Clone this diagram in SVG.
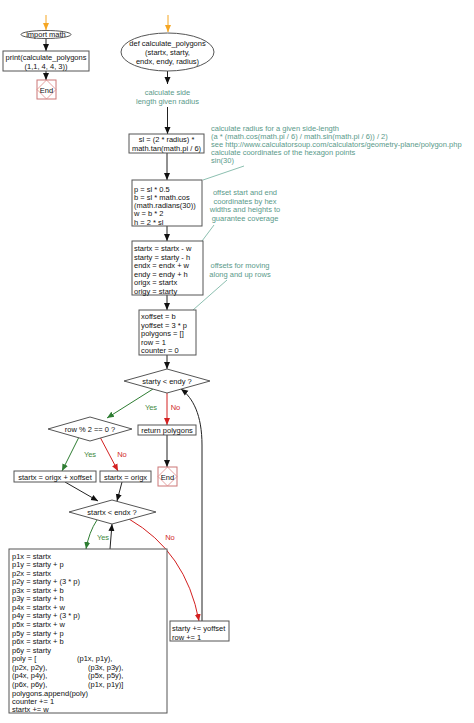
<svg xmlns="http://www.w3.org/2000/svg" width="474" height="723" viewBox="0 0 474 723">
<style>
text{font-family:"Liberation Sans",Arial,sans-serif;font-size:7.5px;fill:#111}
.c{text-anchor:middle}
.box{fill:#fff;stroke:#555;stroke-width:1}
.cm{fill:#5a9a8a}
.yes{fill:#3f8a3f}
.no{fill:#d02a2a}
.ln{fill:none;stroke:#222;stroke-width:1}
.g{fill:none;stroke:#2e7d32;stroke-width:1}
.r{fill:none;stroke:#d32020;stroke-width:1}
.o{fill:none;stroke:#f5a623;stroke-width:1}
.cl{fill:none;stroke:#6fae9c;stroke-width:0.8}
.endr{fill:#fff;stroke:#c77;stroke-width:1}
.endd{fill:none;stroke:#d88;stroke-width:0.8}
</style>
<defs>
<marker id="ab" markerWidth="8" markerHeight="8" refX="7" refY="4" orient="auto" markerUnits="userSpaceOnUse"><path d="M0,1 L7,4 L0,7 Z" fill="#111"/></marker>
<marker id="ag" markerWidth="8" markerHeight="8" refX="7" refY="4" orient="auto" markerUnits="userSpaceOnUse"><path d="M0,1 L7,4 L0,7 Z" fill="#2e7d32"/></marker>
<marker id="ar" markerWidth="8" markerHeight="8" refX="7" refY="4" orient="auto" markerUnits="userSpaceOnUse"><path d="M0,1 L7,4 L0,7 Z" fill="#d32020"/></marker>
<marker id="ao" markerWidth="8" markerHeight="8" refX="7" refY="4" orient="auto" markerUnits="userSpaceOnUse"><path d="M0,1 L7,4 L0,7 Z" fill="#f5a623"/></marker>
</defs>

<g id="connectors">
<path class="o" d="M46,15 L46,30" marker-end="url(#ao)"/>
<path class="o" d="M168,15 L168,32" marker-end="url(#ao)"/>
<path class="ln" d="M46,38 L46,51" marker-end="url(#ab)"/>
<path class="ln" d="M46,71 L46,80" marker-end="url(#ab)"/>
<path class="ln" d="M167.5,71 L167.5,84" marker-end="url(#ab)"/>
<path class="ln" d="M167.5,107 L167.5,134" marker-end="url(#ab)"/>
<path class="ln" d="M167,153 L167,180" marker-end="url(#ab)"/>
<path class="ln" d="M167,226 L167,241" marker-end="url(#ab)"/>
<path class="ln" d="M167,295 L167,310" marker-end="url(#ab)"/>
<path class="ln" d="M167,355 L167,369" marker-end="url(#ab)"/>
<path class="r" d="M167,393 L167,425" marker-end="url(#ar)"/>
<path class="g" d="M153,389 L107,418" marker-end="url(#ag)"/>
<path class="ln" d="M167,435 L167,467" marker-end="url(#ab)"/>
<path class="g" d="M79,437 L62,471" marker-end="url(#ag)"/>
<path class="r" d="M100,437 L118,471" marker-end="url(#ar)"/>
<path class="ln" d="M65,482 L98,501" marker-end="url(#ab)"/>
<path class="ln" d="M122,482 L117,501" marker-end="url(#ab)"/>
<path class="g" d="M97,520 Q89,532 86,549" marker-end="url(#ag)"/>
<path class="ln" d="M110,549 L112,524" marker-end="url(#ab)"/>
<path class="r" d="M129,519 Q186,552 199,621" marker-end="url(#ar)"/>
<path class="ln" d="M202,621 L202,445 C202,415 193,398 181,389" marker-end="url(#ab)"/>
<path class="cl" d="M244,166 L203,180"/>
<path class="cl" d="M214,225 L202,241"/>
<path class="cl" d="M227,280 L193,310"/>
</g>

<g id="n-import">
<ellipse class="box" cx="46" cy="34.5" rx="25" ry="4"/>
<text class="c" x="46" y="37">import math</text>
</g>
<g id="n-print">
<rect class="box" x="3" y="51" width="86" height="20"/>
<text class="c" x="46" y="60">print(calculate_polygons</text>
<text class="c" x="46" y="69">(1,1, 4, 4, 3))</text>
</g>
<g id="n-end1">
<rect class="endr" x="37" y="80" width="19" height="19"/>
<path class="endd" d="M46.5,80 L56,89.5 L46.5,99 L37,89.5 Z"/>
<text class="c" x="46.5" y="92.5">End</text>
</g>

<g id="n-def">
<ellipse class="box" cx="167.5" cy="52" rx="46.5" ry="19"/>
<text class="c" x="167.5" y="46">def calculate_polygons</text>
<text class="c" x="167.5" y="55">(startx, starty,</text>
<text class="c" x="167.5" y="64">endx, endy, radius)</text>
</g>
<g id="c-side">
<text class="c cm" x="167.5" y="95">calculate side</text>
<text class="c cm" x="167.5" y="103.5">length given radius</text>
</g>
<g id="n-sl">
<rect class="box" x="129" y="134" width="75" height="19"/>
<text class="c" x="166.5" y="141.5">sl = (2 * radius) *</text>
<text class="c" x="166.5" y="150.5">math.tan(math.pi / 6)</text>
</g>
<g id="c-radius">
<text class="cm" x="211" y="130.5">calculate radius for a given side-length</text>
<text class="cm" x="211" y="138.7">(a * (math.cos(math.pi / 6) / math.sin(math.pi / 6)) / 2)</text>
<text class="cm" x="211" y="146.9">see http://www.calculatorsoup.com/calculators/geometry-plane/polygon.php</text>
<text class="cm" x="211" y="155.1">calculate coordinates of the hexagon points</text>
<text class="cm" x="211" y="163.3">sin(30)</text>
</g>
<g id="n-p">
<rect class="box" x="132" y="180" width="70" height="46"/>
<text x="134" y="191.5">p = sl * 0.5</text>
<text x="134" y="199.8">b = sl * math.cos</text>
<text x="134" y="208.1">(math.radians(30))</text>
<text x="134" y="216.4">w = b * 2</text>
<text x="134" y="224.7">h = 2 * sl</text>
</g>
<g id="c-offset">
<text class="c cm" x="245" y="195">offset start and end</text>
<text class="c cm" x="245" y="203.5">coordinates by hex</text>
<text class="c cm" x="245" y="212">widths and heights to</text>
<text class="c cm" x="245" y="220.5">guarantee coverage</text>
</g>
<g id="n-startx">
<rect class="box" x="132" y="241" width="71" height="54"/>
<text x="134" y="251">startx = startx - w</text>
<text x="134" y="259.5">starty = starty - h</text>
<text x="134" y="268">endx = endx + w</text>
<text x="134" y="276.5">endy = endy + h</text>
<text x="134" y="285">origx = startx</text>
<text x="134" y="293.5">origy = starty</text>
</g>
<g id="c-offsets">
<text class="c cm" x="240" y="268">offsets for moving</text>
<text class="c cm" x="240" y="277">along and up rows</text>
</g>
<g id="n-xoffset">
<rect class="box" x="139" y="310" width="57" height="45"/>
<text x="141" y="319">xoffset = b</text>
<text x="141" y="327.5">yoffset = 3 * p</text>
<text x="141" y="336">polygons = []</text>
<text x="141" y="344.5">row = 1</text>
<text x="141" y="353">counter = 0</text>
</g>
<g id="n-cond1">
<path class="box" d="M167,369 L210,381 L167,393 L124,381 Z"/>
<text class="c" x="167" y="384">starty &lt; endy ?</text>
</g>
<text class="c yes" x="151" y="410">Yes</text>
<text class="c no" x="175.5" y="410">No</text>
<g id="n-return">
<rect class="box" x="138" y="425" width="58" height="10"/>
<text class="c" x="167" y="433">return polygons</text>
</g>
<g id="n-end2">
<rect class="endr" x="158" y="467" width="19" height="19"/>
<path class="endd" d="M167.5,467 L177,476.5 L167.5,486 L158,476.5 Z"/>
<text class="c" x="167.5" y="479.5">End</text>
</g>
<g id="n-cond2">
<path class="box" d="M90,417 L132,429 L90,441 L48,429 Z"/>
<text class="c" x="90" y="432">row % 2 == 0 ?</text>
</g>
<text class="c yes" x="90" y="457">Yes</text>
<text class="c no" x="122" y="457">No</text>
<g id="n-sx1">
<rect class="box" x="14" y="471" width="82" height="11"/>
<text class="c" x="55" y="479.5">startx = origx + xoffset</text>
</g>
<g id="n-sx2">
<rect class="box" x="100" y="471" width="51" height="11"/>
<text class="c" x="125.5" y="479.5">startx = origx</text>
</g>
<g id="n-cond3">
<path class="box" d="M112,500 L156,512 L112,524 L69,512 Z"/>
<text class="c" x="112" y="515">startx &lt; endx ?</text>
</g>
<text class="c yes" x="103" y="540">Yes</text>
<text class="c no" x="170" y="540">No</text>
<g id="n-body">
<rect class="box" x="9" y="549" width="158" height="164"/>
<text x="12" y="558.5">p1x = startx</text>
<text x="12" y="567.1">p1y = starty + p</text>
<text x="12" y="575.6">p2x = startx</text>
<text x="12" y="584.2">p2y = starty + (3 * p)</text>
<text x="12" y="592.7">p3x = startx + b</text>
<text x="12" y="601.3">p3y = starty + h</text>
<text x="12" y="609.9">p4x = startx + w</text>
<text x="12" y="618.4">p4y = starty + (3 * p)</text>
<text x="12" y="627.0">p5x = startx + w</text>
<text x="12" y="635.5">p5y = starty + p</text>
<text x="12" y="644.1">p6x = startx + b</text>
<text x="12" y="652.7">p6y = starty</text>
<text y="661.2"><tspan x="12">poly = [</tspan><tspan x="77">(p1x, p1y),</tspan></text>
<text y="669.8"><tspan x="12">(p2x, p2y),</tspan><tspan x="88">(p3x, p3y),</tspan></text>
<text y="678.3"><tspan x="12">(p4x, p4y),</tspan><tspan x="88">(p5x, p5y),</tspan></text>
<text y="686.9"><tspan x="12">(p6x, p6y),</tspan><tspan x="88">(p1x, p1y)]</tspan></text>
<text x="12" y="695.5">polygons.append(poly)</text>
<text x="12" y="704.0">counter += 1</text>
<text x="12" y="712.0">startx += w</text>
</g>
<g id="n-starty">
<rect class="box" x="170" y="621" width="59" height="20"/>
<text x="172" y="630.5">starty += yoffset</text>
<text x="172" y="639.5">row += 1</text>
</g>
</svg>
